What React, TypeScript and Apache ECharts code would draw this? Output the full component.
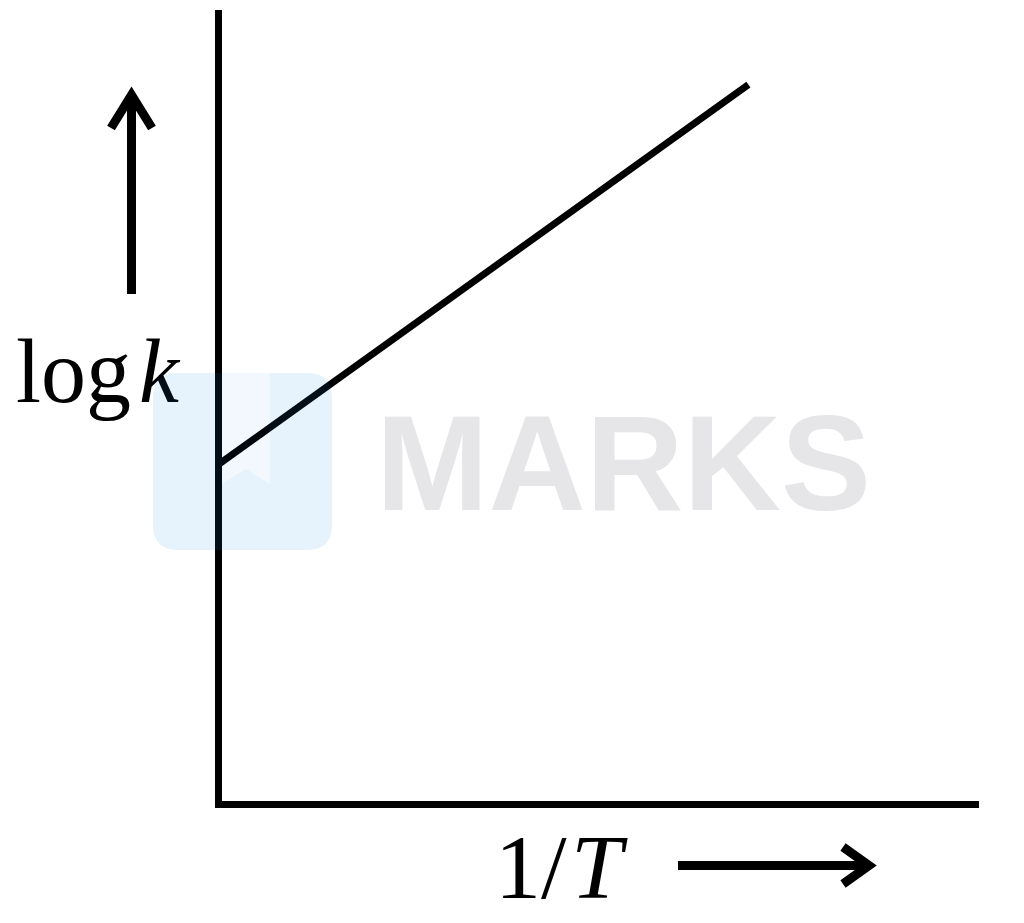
import React, { useEffect, useRef } from "react";
import * as echarts from "echarts";

// Axis extents (arbitrary schematic units)
const xRange: [number, number] = [0, 10];
const yRange: [number, number] = [0, 10];
// Straight line log k vs 1/T
const lineX = [0, 7.0];
const lineY = [4.3, 9.1];
// Labels
const yLabelParts = ["log", "k"];
const xLabelParts = ["1/", "T"];
const watermarkText = "MARKS";

const SERIF = '"Liberation Serif", "Times New Roman", serif';

const logoD =
  "M25 0 H154 Q179 0 179 25 V152 Q179 177 154 177 H25 Q0 177 0 152 V25 Q0 0 25 0 Z " +
  "M69 0 V111 L93 96 L117 111 V0 Z";

let registered = false;
function ensureShape() {
  if (registered) return;
  echarts.graphic.registerShape("logo", echarts.graphic.extendPath(logoD, {}) as any);
  registered = true;
}

export default function App() {
  const ref = useRef<HTMLDivElement>(null);
  useEffect(() => {
    if (!ref.current) return;
    ensureShape();
    const chart = echarts.init(ref.current, undefined, { renderer: "svg" });
    const data = lineX.map((x, i) => [x, lineY[i]]);
    const axisCommon = {
      type: "value" as const,
      axisLine: { show: true, lineStyle: { color: "#000", width: 7, cap: "square" } },
      axisTick: { show: false },
      axisLabel: { show: false },
      splitLine: { show: false },
    };
    chart.setOption({
      animation: false,
      backgroundColor: "#ffffff",
      grid: { left: 218.5, right: 48.5, top: 13.5, bottom: 118.5 },
      xAxis: { ...axisCommon, min: xRange[0], max: xRange[1] },
      yAxis: { ...axisCommon, min: yRange[0], max: yRange[1] },
      series: [
        {
          type: "line",
          data,
          showSymbol: false,
          silent: true,
          lineStyle: { color: "#000", width: 7, cap: "butt" },
          z: 3,
        },
      ],
      graphic: [
        // y-axis label
        {
          type: "text",
          x: 16,
          y: 371,
          z: 5,
          style: {
            text: yLabelParts[0],
            fontSize: 90,
            fontFamily: SERIF,
            fill: "#000",
            align: "left",
            verticalAlign: "middle",
          },
        },
        {
          type: "text",
          x: 139,
          y: 371,
          z: 5,
          style: {
            text: yLabelParts[1],
            fontSize: 90,
            fontStyle: "italic",
            fontFamily: SERIF,
            fill: "#000",
            align: "left",
            verticalAlign: "middle",
          },
        },
        // x-axis label
        {
          type: "text",
          x: 495,
          y: 867,
          z: 5,
          style: {
            text: xLabelParts[0],
            fontSize: 92,
            fontFamily: SERIF,
            fill: "#000",
            align: "left",
            verticalAlign: "middle",
          },
        },
        {
          type: "text",
          x: 571,
          y: 867,
          z: 5,
          style: {
            text: xLabelParts[1],
            fontSize: 92,
            fontStyle: "italic",
            fontFamily: SERIF,
            fill: "#000",
            align: "left",
            verticalAlign: "middle",
          },
        },
        // up arrow
        {
          type: "line",
          z: 5,
          shape: { x1: 131.5, y1: 294, x2: 131.5, y2: 96 },
          style: { stroke: "#000", lineWidth: 9, lineCap: "butt" },
        },
        {
          type: "polyline",
          z: 5,
          shape: { points: [[111, 128], [131.5, 95], [152, 128]] },
          style: { stroke: "#000", lineWidth: 9, lineJoin: "miter", lineCap: "butt", fill: "none" },
        },
        // right arrow
        {
          type: "line",
          z: 5,
          shape: { x1: 678, y1: 865.5, x2: 866, y2: 865.5 },
          style: { stroke: "#000", lineWidth: 9, lineCap: "butt" },
        },
        {
          type: "polyline",
          z: 5,
          shape: { points: [[843, 847], [869, 865.5], [843, 884]] },
          style: { stroke: "#000", lineWidth: 9, lineJoin: "miter", lineCap: "butt", fill: "none" },
        },
        // watermark
        {
          type: "text",
          x: 376,
          y: 463,
          z: 1,
          style: {
            text: watermarkText,
            fontSize: 135,
            fontWeight: "bold",
            fontFamily: '"Liberation Sans", Arial, sans-serif',
            fill: "#e6e6e8",
            align: "left",
            verticalAlign: "middle",
          },
        },
        {
          type: "logo",
          x: 153,
          y: 373,
          z: 20,
          silent: true,
          style: { fill: "rgba(5,125,225,0.1)", stroke: "none" },
        } as any,
        {
          type: "polygon",
          z: 20,
          silent: true,
          shape: { points: [[222, 373], [270, 373], [270, 484], [246, 469], [222, 484]] },
          style: { fill: "rgba(5,125,225,0.05)", stroke: "none" },
        },
      ],
    });
    return () => chart.dispose();
  }, []);
  return (
    <div
      ref={ref}
      style={{ position: "absolute", left: 0, top: 0, width: 1024, height: 923 }}
    />
  );
}
